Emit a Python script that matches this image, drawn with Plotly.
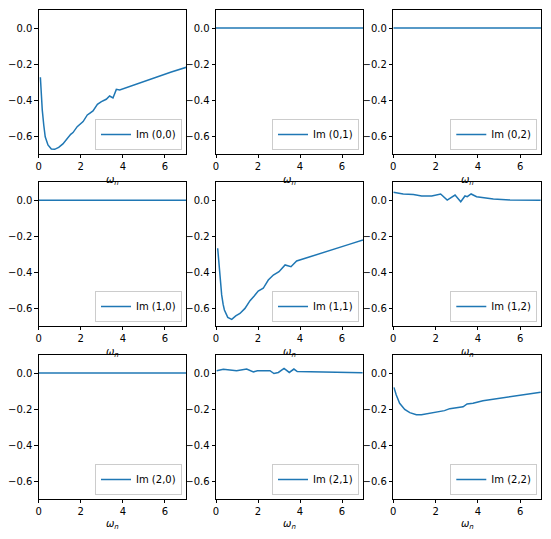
import plotly.graph_objects as go

# imaginary part of each matrix element vs Matsubara frequency
omega_00 = [0.08, 0.12, 0.17, 0.24, 0.31, 0.44, 0.60, 0.76, 0.95, 1.15, 1.36, 1.52, 1.63,
            1.83, 2.11, 2.31, 2.42, 2.58, 2.79, 2.98, 3.21, 3.37, 3.53, 3.69, 3.85, 4.72,
            5.51, 6.3, 7.02]
im_00 = [-0.274, -0.363, -0.456, -0.539, -0.604, -0.650, -0.672, -0.674, -0.663, -0.644,
         -0.613, -0.591, -0.581, -0.548, -0.520, -0.483, -0.474, -0.461, -0.424, -0.409,
         -0.396, -0.378, -0.389, -0.341, -0.344, -0.307, -0.274, -0.244, -0.218]

omega_11 = [0.08, 0.12, 0.16, 0.22, 0.27, 0.34, 0.40, 0.56, 0.75, 0.94, 1.14, 1.38, 1.62,
            1.82, 2.01, 2.25, 2.49, 2.73, 3.0, 3.29, 3.57, 3.84, 4.71, 5.51, 6.3, 7.0]
im_11 = [-0.267, -0.330, -0.388, -0.465, -0.527, -0.580, -0.611, -0.652, -0.663, -0.644,
         -0.630, -0.602, -0.559, -0.533, -0.505, -0.490, -0.444, -0.416, -0.398, -0.360,
         -0.370, -0.338, -0.305, -0.273, -0.247, -0.221]

omega_22 = [0.03, 0.14, 0.30, 0.54, 0.78, 1.09, 1.33, 1.72, 2.04, 2.27, 2.42, 2.67, 3.06,
            3.30, 3.49, 3.77, 4.24, 5.0, 6.0, 6.97]
im_22 = [-0.080, -0.122, -0.168, -0.202, -0.220, -0.232, -0.232, -0.224, -0.217, -0.209,
         -0.209, -0.198, -0.191, -0.188, -0.172, -0.168, -0.154, -0.141, -0.124, -0.107]

omega_12 = [0.0, 0.47, 0.95, 1.18, 1.34, 1.82, 2.24, 2.55, 2.92, 3.19, 3.39, 3.5, 3.68,
            3.94, 4.73, 5.52, 6.97]
im_12 = [0.044, 0.035, 0.032, 0.029, 0.024, 0.024, 0.035, 0.001, 0.029, -0.008, 0.024,
         0.020, 0.035, 0.020, 0.007, 0.002, 0.0]

omega_21 = [0.03, 0.35, 0.98, 1.46, 1.78, 1.97, 2.57, 2.76, 2.97, 3.24, 3.49, 3.71, 3.87,
            4.95, 6.98]
im_21 = [0.013, 0.021, 0.013, 0.022, 0.006, 0.013, 0.013, -0.003, 0.003, 0.025, 0.003,
         0.022, 0.008, 0.006, 0.002]

omega_flat = [0.0, 7.0]
im_flat = [0.0, 0.0]

panels = [
    ("Im (0,0)", omega_00, im_00), ("Im (0,1)", omega_flat, im_flat), ("Im (0,2)", omega_flat, im_flat),
    ("Im (1,0)", omega_flat, im_flat), ("Im (1,1)", omega_11, im_11), ("Im (1,2)", omega_12, im_12),
    ("Im (2,0)", omega_flat, im_flat), ("Im (2,1)", omega_21, im_21), ("Im (2,2)", omega_22, im_22),
]

# the page puts the figure 8px in from the top-left corner
OFF = 8
W, H = 551 - 2 * OFF, 539 - 2 * OFF
x_px = [(38.7, 186), (216, 363), (393.3, 541.3)]
y_px = [(10, 154), (182.3, 326), (355, 499)]
x_dom = [[(a - OFF) / W, (b - OFF) / W] for a, b in x_px]
y_dom = [[1 - (b - OFF) / H, 1 - (t - OFF) / H] for t, b in y_px]

fig = go.Figure()
font = dict(family="DejaVu Sans", size=10, color="#000000")
axis_style = dict(showgrid=False, zeroline=False, showline=True, mirror=True,
                  linecolor="#000000", linewidth=0.8, ticks="outside", ticklen=3.5,
                  tickwidth=0.8, tickcolor="#000000", tickfont=font, automargin=False)

for k, (name, xs, ys) in enumerate(panels):
    i = k + 1
    r, c = divmod(k, 3)
    sfx = "" if i == 1 else str(i)
    fig.add_trace(go.Scatter(x=xs, y=ys, mode="lines", name=name,
                             line=dict(color="#1f77b4", width=1.5),
                             xaxis="x" + sfx, yaxis="y" + sfx, legend="legend" + sfx))
    fig.layout["xaxis" + sfx] = dict(axis_style, domain=x_dom[c], range=[0, 7], dtick=2, tick0=0,
                                     anchor="y" + sfx,
                                     title=dict(text="<i>ω<sub>n</sub></i>", font=font, standoff=4))
    fig.layout["yaxis" + sfx] = dict(axis_style, domain=y_dom[r], range=[-0.7, 0.1], dtick=0.2,
                                     tick0=0, tickformat=".1f", anchor="x" + sfx)
    fig.layout["legend" + sfx] = dict(x=x_dom[c][1] - 4 / W, y=y_dom[r][0] + 4 / H,
                                      xanchor="right", yanchor="bottom",
                                      bgcolor="rgba(255,255,255,0.8)", bordercolor="#cccccc",
                                      borderwidth=1, font=dict(family="DejaVu Sans", size=10, color="#000000"),
                                      itemwidth=30, tracegroupgap=0)

fig.update_layout(width=W, height=H, margin=dict(l=0, r=0, t=0, b=0),
                  paper_bgcolor="white", plot_bgcolor="white", showlegend=True)
fig.write_html("out.html")
